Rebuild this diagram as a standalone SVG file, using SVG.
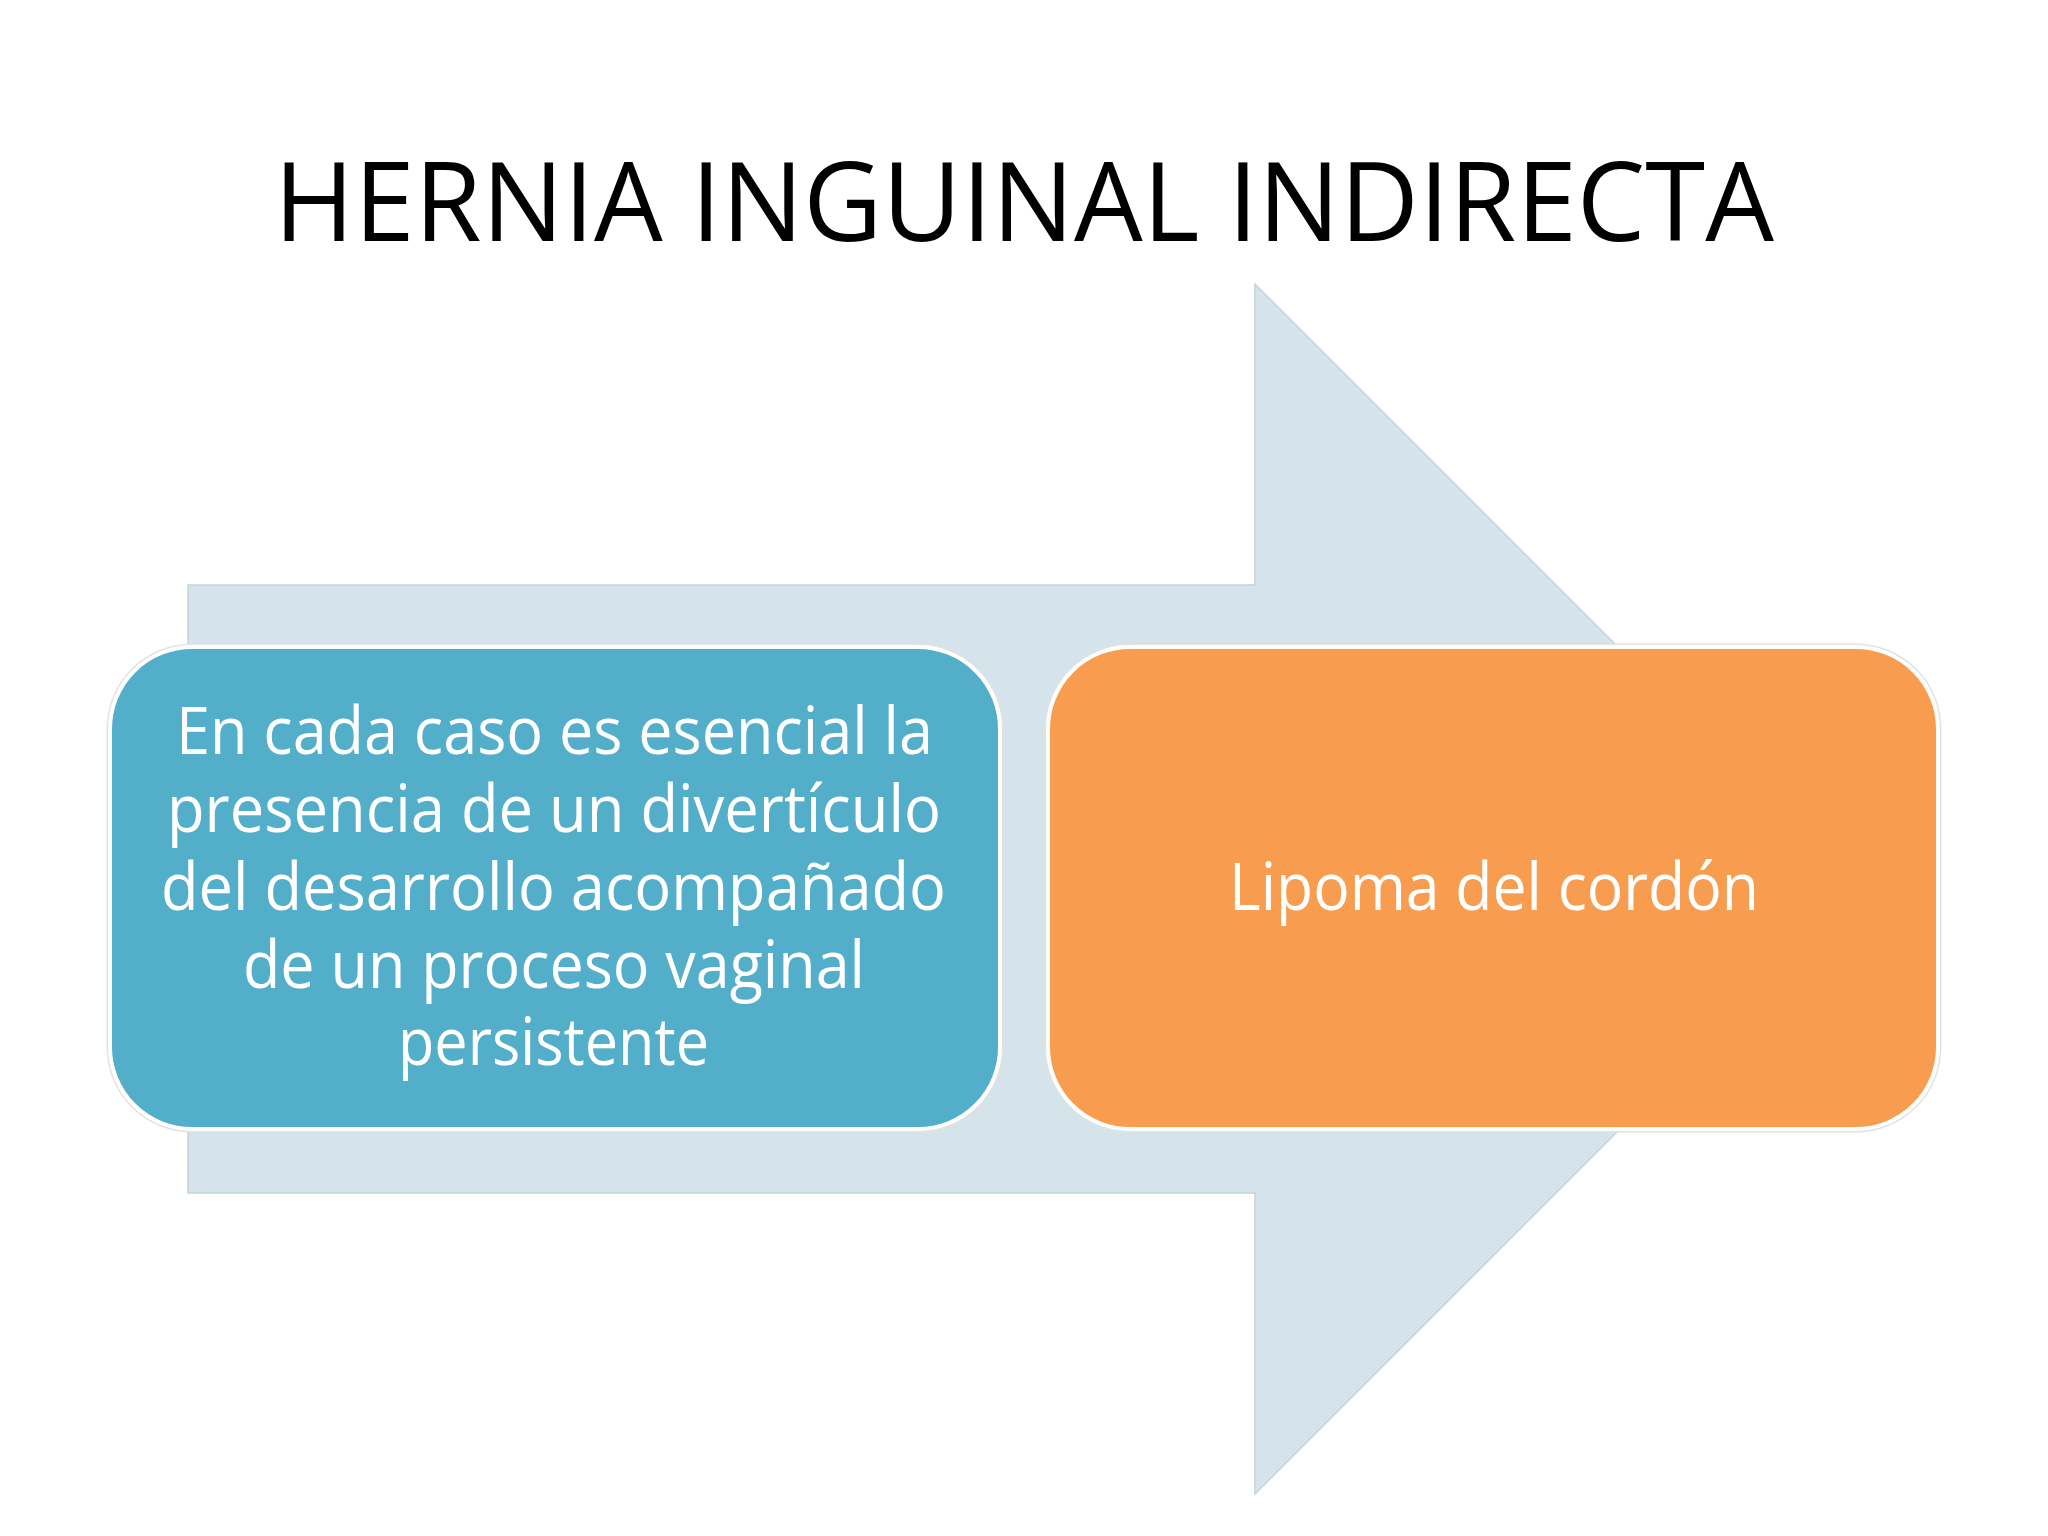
<svg xmlns="http://www.w3.org/2000/svg" width="2048" height="1536" viewBox="0 0 2048 1536">
<style>
.title{font-family:"Open Sans","Liberation Sans",sans-serif;font-size:110px;fill:#000;}
.lbl{font-family:"Open Sans","Liberation Sans",sans-serif;font-size:66px;fill:#fff;}
.halo{fill:none;stroke:#e2e2e2;stroke-width:7;}
.box{stroke:#fff;stroke-width:4;}
</style>
<rect width="2048" height="1536" fill="#fff"/>
<text class="title" x="274" y="241" textLength="1500" lengthAdjust="spacingAndGlyphs">HERNIA INGUINAL INDIRECTA</text>
<g id="connectors">
<polygon points="188,585 1255,585 1255,284 1860,889 1255,1494 1255,1193 188,1193" fill="#D5E4EA" stroke="#C6D2DA" stroke-width="1.5"/>
</g>
<g id="node1">
<rect class="halo" x="110" y="647" width="890" height="482" rx="82"/>
<rect class="box" x="110" y="647" width="890" height="482" rx="82" fill="#52AEC9"/>
<text class="lbl" x="176" y="754" textLength="757" lengthAdjust="spacingAndGlyphs">En cada caso es esencial la</text>
<text class="lbl" x="167" y="832" textLength="774" lengthAdjust="spacingAndGlyphs">presencia de un divertículo</text>
<text class="lbl" x="161" y="910" textLength="785" lengthAdjust="spacingAndGlyphs">del desarrollo acompañado</text>
<text class="lbl" x="243" y="988" textLength="622" lengthAdjust="spacingAndGlyphs">de un proceso vaginal</text>
<text class="lbl" x="398" y="1065" textLength="311" lengthAdjust="spacingAndGlyphs">persistente</text>
</g>
<g id="node2">
<rect class="halo" x="1048" y="647" width="890" height="482" rx="82"/>
<rect class="box" x="1048" y="647" width="890" height="482" rx="82" fill="#F89C4F"/>
<text class="lbl" x="1229" y="910" textLength="530" lengthAdjust="spacingAndGlyphs">Lipoma del cordón</text>
</g>
</svg>
